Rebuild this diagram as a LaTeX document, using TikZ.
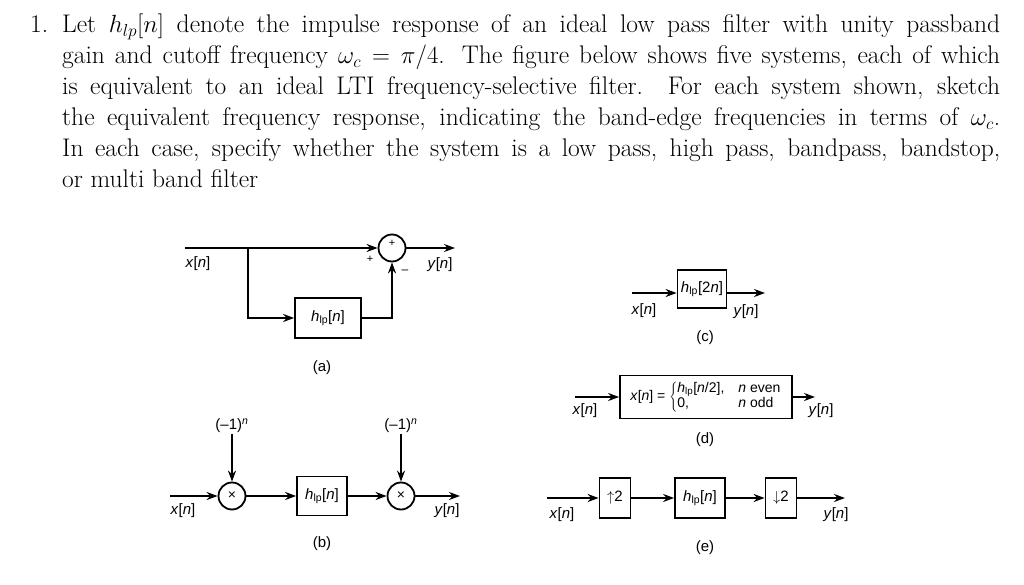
\documentclass[tikz,border=0pt]{standalone}
\usepackage{fontspec}
\newfontfamily\dsf[Ligatures=TeX]{Liberation Sans}
\usetikzlibrary{arrows.meta}
\newcommand\xsig{\textit{x}[\textit{n}]}
\newcommand\ysig{\textit{y}[\textit{n}]}
\newcommand\hlp{\textit{h}\textsubscript{lp}}
\begin{document}
\begin{tikzpicture}[x=1pt,y=-1pt,
  lbl/.style={font=\dsf\fontsize{15}{17}\selectfont,inner sep=1pt},
  blk/.style={draw,line width=1.8pt,minimum width=50pt,minimum height=40pt,font=\dsf\fontsize{15}{17}\selectfont,inner sep=1pt},
  sm/.style={draw,circle,line width=1.8pt,minimum size=27pt,inner sep=0pt,font=\dsf\fontsize{14}{14}\selectfont},
  w/.style={line width=1.8pt},
  ar/.style={w,-{Stealth[length=11pt,width=8pt]}},
  capt/.style={font=\dsf\fontsize{15}{17}\selectfont}]
\useasboundingbox (0,0) rectangle (1024,585);
\node[anchor=north west,text width=970pt,align=justify,inner sep=0pt] (txt) at (30,14) {\fontsize{25.5}{31}\selectfont\hangindent=32pt\hangafter=1\noindent\makebox[32pt][l]{1.}Let $h_{lp}[n]$ denote the impulse response of an ideal low pass filter with unity passband\linebreak gain and cutoff frequency $\omega_c=\pi/4$. The figure below shows five systems, each of which\linebreak is equivalent to an ideal LTI frequency-selective filter. For each system shown, sketch\linebreak the equivalent frequency response, indicating the band-edge frequencies in terms of $\omega_c$.\linebreak In each case, specify whether the system is a low pass, high pass, bandpass, bandstop,\linebreak or multi band filter\par};
% (a)
\node[sm] (sa) at (392,248) {};
\node[font=\dsf\fontsize{11}{10}\selectfont] (sap) at (392,243) {+};
\node[blk,minimum width=66pt] (ha) at (328,318) {\hlp[\textit{n}]};
\coordinate (ain) at (185,248);
\coordinate (abr) at (248,248);
\coordinate (aout) at (455,248);
\node[lbl] (axl) at (198,264) {\xsig};
\node[lbl] (ayl) at (440,265) {\ysig};
\node[lbl,font=\dsf\fontsize{11}{10}\selectfont] (apl) at (370,259) {+};
\node[lbl,font=\dsf\fontsize{12}{10}\selectfont] (aml) at (405,272) {–};
\draw[ar] (ain) -- (sa.west);
\draw[ar] (abr) |- (ha.west);
\draw[ar] (ha.east) -| (sa.south);
\draw[ar] (sa.east) -- (aout);
\node[capt] (ca) at (322,368) {(a)};
% (c)
\node[blk,minimum width=49pt,minimum height=38pt] (hc) at (702,289) {\hlp[2\textit{n}]};
\coordinate (cin) at (632,293);
\coordinate (cout) at (765,293);
\draw[ar] (cin) -- (cin-|hc.west);
\draw[ar] (cin-|hc.east) -- (cout);
\node[lbl] (cxl) at (644,311) {\xsig};
\node[lbl] (cyl) at (746,312) {\ysig};
\node[capt] (cc) at (705,338) {(c)};
% (d)
\node[blk,minimum width=172pt,minimum height=43pt,font=\dsf\fontsize{14}{15}\selectfont] (hd) at (706,397) {\textit{x}[\textit{n}] = $\left\{\begin{tabular}{@{}l@{\hspace{14pt}}l@{}}\hlp[\textit{n}/2], & \textit{n} even\\0, & \textit{n} odd\end{tabular}\right.$};
\coordinate (din) at (575,397);
\coordinate (dout) at (815,397);
\draw[ar] (din) -- (hd.west);
\draw[ar] (hd.east) -- (dout);
\node[lbl] (dxl) at (585,411) {\xsig};
\node[lbl] (dyl) at (821,411) {\ysig};
\node[capt] (cd) at (705,440) {(d)};
% (b)
\node[sm] (b1) at (232,496) {×};
\node[blk,minimum width=50pt,minimum height=39pt] (hb) at (322,496) {\hlp[\textit{n}]};
\node[sm] (b2) at (401,496) {×};
\coordinate (bin) at (170,496);
\coordinate (bout) at (460,496);
\node[lbl] (m1) at (232,426) {(–1)\textsuperscript{\textit{n}}};
\node[lbl] (m2) at (401,426) {(–1)\textsuperscript{\textit{n}}};
\draw[ar] (bin) -- (b1);
\draw[ar] (b1) -- (hb);
\draw[ar] (hb) -- (b2);
\draw[ar] (b2) -- (bout);
\draw[ar] (m1.south) -- (b1.north);
\draw[ar] (m2.south) -- (b2.north);
\node[lbl] (bxl) at (183,511) {\xsig};
\node[lbl] (byl) at (447,511) {\ysig};
\node[capt] (cb) at (322,544) {(b)};
% (e)
\node[blk,minimum width=31pt] (e1) at (615,498) {$\uparrow$2};
\node[blk,minimum width=50pt] (e2) at (700,498) {\hlp[\textit{n}]};
\node[blk,minimum width=31pt] (e3) at (781,498) {$\downarrow$2};
\coordinate (ein) at (547,498);
\coordinate (eout) at (845,498);
\draw[ar] (ein) -- (e1);
\draw[ar] (e1) -- (e2);
\draw[ar] (e2) -- (e3);
\draw[ar] (e3) -- (eout);
\node[lbl] (exl) at (562,515) {\xsig};
\node[lbl] (eyl) at (836,515) {\ysig};
\node[capt] (ce) at (705,548) {(e)};
\end{tikzpicture}
\end{document}
